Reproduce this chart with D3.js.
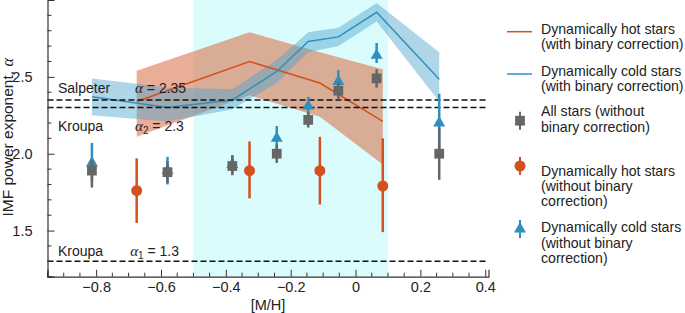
<!DOCTYPE html>
<html>
<head>
<meta charset="utf-8">
<script src="https://cdn.jsdelivr.net/npm/d3@7"></script>
<style>
  body { margin: 0; background: #fff; }
  svg { display: block; font-family: "Liberation Sans", Arial, Helvetica, sans-serif; }
  .tick-label { font-size: 14px; fill: #222; }
  .legend-label { font-size: 14.1px; fill: #222; }
  .greek { font-family: "Liberation Serif", "DejaVu Serif", serif; font-style: italic; }
</style>
</head>
<body>
<svg id="chart"></svg>
<script>
// ---- data ----
const xTicks = [-0.8, -0.6, -0.4, -0.2, 0, 0.2, 0.4];
const yTicks = [1.5, 2.0, 2.5];

// dynamically cold stars, with binary correction (line + band)
const coldX  = [-0.813, -0.58, -0.38, -0.243, -0.146, -0.053, 0.065, 0.258];
const coldMid = [2.37, 2.30, 2.35, 2.535, 2.73, 2.76, 2.92, 2.485];
const coldLo  = [2.25, 2.21, 2.29, 2.46, 2.66, 2.70, 2.86, 2.34];
const coldHi  = [2.49, 2.43, 2.42, 2.61, 2.79, 2.82, 2.98, 2.66];

// dynamically hot stars, with binary correction (line + band)
const hotX   = [-0.675, -0.327, -0.11, 0.084];
const hotMid = [2.34, 2.60, 2.46, 2.21];
const hotLo  = [2.11, 2.38, 2.24, 1.93];
const hotHi  = [2.54, 2.79, 2.66, 2.55];

// all stars, without binary correction (squares)
const allX  = [-0.813, -0.58, -0.38, -0.243, -0.146, -0.053, 0.065, 0.258];
const allY  = [1.89, 1.88, 1.92, 2.00, 2.22, 2.41, 2.49, 2.00];
const allLo = [1.78, 1.81, 1.86, 1.94, 2.17, 2.35, 2.43, 1.83];
const allHi = [1.96, 1.95, 1.99, 2.06, 2.27, 2.47, 2.55, 2.17];

// dynamically cold stars, without binary correction (triangles)
const coldPtY  = [1.94, 1.89, 1.93, 2.10, 2.31, 2.47, 2.64, 2.20];
const coldPtLo = [1.82, 1.80, 1.87, 2.02, 2.25, 2.40, 2.59, 2.01];
const coldPtHi = [2.07, 1.98, 1.99, 2.18, 2.37, 2.545, 2.72, 2.39];

// dynamically hot stars, without binary correction (circles)
const hotPtY  = [1.76, 1.89, 1.89, 1.79];
const hotPtLo = [1.55, 1.71, 1.67, 1.49];
const hotPtHi = [1.97, 2.08, 2.11, 2.10];

// reference IMF slopes
const refLines = [
  { name: 'Salpeter', sym: 'α', sub: '', value: 2.35, labelY: 2.43, symX: -0.68 },
  { name: 'Kroupa', sym: 'α', sub: '2', value: 2.3, labelY: 2.18, symX: -0.68 },
  { name: 'Kroupa', sym: 'α', sub: '1', value: 1.3, labelY: 1.37, symX: -0.695 }
];
const shadedRange = [-0.5, 0.1];

const red = '#d4501f', blue = '#2f8fbf', grey = '#666666';

const config = {
  width: 685, height: 313,
  margin: { top: 0, left: 47.5, right: 196.5, bottom: 36.3 }
};
const width = config.width - config.margin.left - config.margin.right;
const height = config.height - config.margin.top - config.margin.bottom;

const svg = d3.select('#chart')
    .attr('width', config.width)
    .attr('height', config.height);

const chart = svg.append('g')
    .attr('transform', `translate(${config.margin.left},${config.margin.top})`);

const xScale = d3.scaleLinear().domain([-0.95, 0.41]).range([0, width]);
const yScale = d3.scaleLinear().domain([1.2, 3.0]).range([height, 0]);

// shaded metallicity window
chart.append('rect')
    .attr('x', xScale(shadedRange[0]))
    .attr('y', 0)
    .attr('width', xScale(shadedRange[1]) - xScale(shadedRange[0]))
    .attr('height', height)
    .attr('fill', '#dafcfc');

// bands
const area = d3.area()
    .x(d => xScale(d.x))
    .y0(d => yScale(d.lo))
    .y1(d => yScale(d.hi));
const line = d3.line()
    .x(d => xScale(d.x))
    .y(d => yScale(d.y));

const hotData = hotX.map((x, i) => ({ x, y: hotMid[i], lo: hotLo[i], hi: hotHi[i] }));
const coldData = coldX.map((x, i) => ({ x, y: coldMid[i], lo: coldLo[i], hi: coldHi[i] }));

chart.append('path').datum(hotData)
    .attr('d', area)
    .attr('fill', '#d96a42')
    .attr('opacity', 0.55);
chart.append('path').datum(coldData)
    .attr('d', area)
    .attr('fill', '#4ba3cc')
    .attr('opacity', 0.45);

chart.append('path').datum(hotData)
    .attr('d', line)
    .attr('fill', 'none')
    .attr('stroke', red)
    .attr('stroke-width', 1.5);
chart.append('path').datum(coldData)
    .attr('d', line)
    .attr('fill', 'none')
    .attr('stroke', blue)
    .attr('stroke-width', 1.5);

// dashed reference lines + labels
chart.selectAll('.ref-line')
    .data(refLines)
  .join('line')
    .attr('class', 'ref-line')
    .attr('x1', 0)
    .attr('x2', width)
    .attr('y1', d => yScale(d.value))
    .attr('y2', d => yScale(d.value))
    .attr('stroke', '#111')
    .attr('stroke-width', 1.5)
    .attr('stroke-dasharray', '6,3');

chart.selectAll('.ref-name')
    .data(refLines)
  .join('text')
    .attr('class', 'ref-name tick-label')
    .attr('x', 10.5)
    .attr('y', d => yScale(d.labelY) + 5)
    .text(d => d.name);

const refSym = chart.selectAll('.ref-sym')
    .data(refLines)
  .join('text')
    .attr('class', 'ref-sym tick-label')
    .attr('x', d => xScale(d.symX))
    .attr('y', d => yScale(d.labelY) + 5);
refSym.append('tspan').attr('class', 'greek').style('font-size', '15px').text(d => d.sym);
refSym.append('tspan')
    .attr('dy', 3)
    .style('font-size', '10px')
    .text(d => d.sub);
refSym.append('tspan')
    .attr('dy', d => d.sub ? -3 : 0)
    .text(d => ' = ' + d.value);

// error bars + markers
function errorBars(cls, xs, lo, hi, color) {
  chart.selectAll('.' + cls)
      .data(xs.map((x, i) => ({ x, lo: lo[i], hi: hi[i] })))
    .join('line')
      .attr('class', cls)
      .attr('x1', d => xScale(d.x))
      .attr('x2', d => xScale(d.x))
      .attr('y1', d => yScale(d.lo))
      .attr('y2', d => yScale(d.hi))
      .attr('stroke', color)
      .attr('stroke-width', 2.5);
}

const triangle = d3.symbol().type(d3.symbolTriangle).size(62);
const square = d3.symbol().type(d3.symbolSquare).size(95);

// cold triangles
errorBars('cold-err', allX, coldPtLo, coldPtHi, blue);
chart.selectAll('.cold-pt')
    .data(allX.map((x, i) => ({ x, y: coldPtY[i] })))
  .join('path')
    .attr('class', 'cold-pt')
    .attr('d', triangle)
    .attr('transform', d => `translate(${xScale(d.x)},${yScale(d.y)})`)
    .attr('fill', blue);

// all-star squares
errorBars('all-err', allX, allLo, allHi, grey);
chart.selectAll('.all-pt')
    .data(allX.map((x, i) => ({ x, y: allY[i] })))
  .join('path')
    .attr('class', 'all-pt')
    .attr('d', square)
    .attr('transform', d => `translate(${xScale(d.x)},${yScale(d.y)})`)
    .attr('fill', grey);

// hot circles
errorBars('hot-err', hotX, hotPtLo, hotPtHi, red);
chart.selectAll('.hot-pt')
    .data(hotX.map((x, i) => ({ x, y: hotPtY[i] })))
  .join('circle')
    .attr('class', 'hot-pt')
    .attr('cx', d => xScale(d.x))
    .attr('cy', d => yScale(d.y))
    .attr('r', 5.5)
    .attr('fill', red);

// axes (ticks point inward)
const xAxis = d3.axisBottom(xScale)
    .tickValues(xTicks)
    .tickSize(-7)
    .tickPadding(14)
    .tickFormat(d => d === 0 ? '0' : d3.format('.1f')(d).replace('-', '\u2212'));
const yAxis = d3.axisLeft(yScale)
    .tickValues(yTicks)
    .tickSize(-7)
    .tickPadding(15)
    .tickFormat(d3.format('.1f'));

const xMinor = d3.range(-0.95, 0.41, 0.05).map(v => +v.toFixed(2))
    .filter(v => !xTicks.some(t => Math.abs(t - v) < 1e-6));
const yMinor = d3.range(1.2, 3.0001, 0.1).map(v => +v.toFixed(2))
    .filter(v => !yTicks.some(t => Math.abs(t - v) < 1e-6));

const xAxisG = chart.append('g')
    .attr('transform', `translate(0,${height})`)
    .call(xAxis);
const yAxisG = chart.append('g').call(yAxis);

chart.append('g').selectAll('line')
    .data(xMinor)
  .join('line')
    .attr('x1', d => xScale(d)).attr('x2', d => xScale(d))
    .attr('y1', height).attr('y2', height - 4)
    .attr('stroke', '#333');
chart.append('g').selectAll('line')
    .data(yMinor)
  .join('line')
    .attr('x1', 0).attr('x2', 4)
    .attr('y1', d => yScale(d)).attr('y2', d => yScale(d))
    .attr('stroke', '#333');

[xAxisG, yAxisG].forEach(g => {
  g.select('.domain').attr('stroke', '#333').attr('stroke-width', 1.2);
  g.selectAll('.tick line').attr('stroke', '#333');
  g.selectAll('.tick text')
      .attr('class', 'tick-label')
      .style('font-size', '14.5px')
      .attr('fill', '#222');
});
xAxisG.selectAll('.tick text').attr('dy', '0.1em');
yAxisG.selectAll('.tick text').attr('dy', '0.35em');

// axis labels
chart.append('text')
    .attr('class', 'tick-label')
    .style('font-size', '14.5px')
    .attr('x', width / 2)
    .attr('y', height + 33)
    .style('text-anchor', 'middle')
    .text('[M/H]');

const yLabel = svg.append('text')
    .attr('class', 'tick-label')
    .style('font-size', '15.5px')
    .attr('transform', `translate(13,${height / 2 - 1}) rotate(-90)`)
    .style('text-anchor', 'middle');
yLabel.append('tspan').text('IMF power exponent, ');
yLabel.append('tspan').attr('class', 'greek').style('font-size', '16px').text('α');

// legend
const legendItems = [
  { kind: 'line', color: red, y: 31.7, lines: ['Dynamically hot stars', '(with binary correction)'] },
  { kind: 'line', color: blue, y: 74, lines: ['Dynamically cold stars', '(with binary correction)'] },
  { kind: 'square', color: grey, y: 120.7, lines: ['All stars (without', 'binary correction)'] },
  { kind: 'circle', color: red, y: 166, lines: ['Dynamically hot stars', '(without binary', 'correction)'] },
  { kind: 'triangle', color: blue, y: 229, lines: ['Dynamically cold stars', '(without binary', 'correction)'] }
];
const textTop = [33.5, 75.5, 116.3, 175.5, 232.3];

const legend = svg.append('g');
legendItems.forEach((item, i) => {
  const g = legend.append('g');
  const cx = 520;
  if (item.kind === 'line') {
    g.append('line')
        .attr('x1', 507).attr('x2', 532)
        .attr('y1', item.y).attr('y2', item.y)
        .attr('stroke', item.color).attr('stroke-width', 1.5);
  } else {
    g.append('line')
        .attr('x1', cx).attr('x2', cx)
        .attr('y1', item.y - 9).attr('y2', item.y + 9)
        .attr('stroke', item.color).attr('stroke-width', 2);
    if (item.kind === 'square') {
      g.append('path').attr('d', square).attr('transform', `translate(${cx},${item.y})`).attr('fill', item.color);
    } else if (item.kind === 'circle') {
      g.append('circle').attr('cx', cx).attr('cy', item.y).attr('r', 5.5).attr('fill', item.color);
    } else {
      g.append('path').attr('d', triangle).attr('transform', `translate(${cx},${item.y})`).attr('fill', item.color);
    }
  }
  g.selectAll('text')
      .data(item.lines)
    .join('text')
      .attr('class', 'legend-label')
      .attr('x', 541)
      .attr('y', (d, j) => textTop[i] + j * 15.2)
      .text(d => d);
});
</script>
</body>
</html>
